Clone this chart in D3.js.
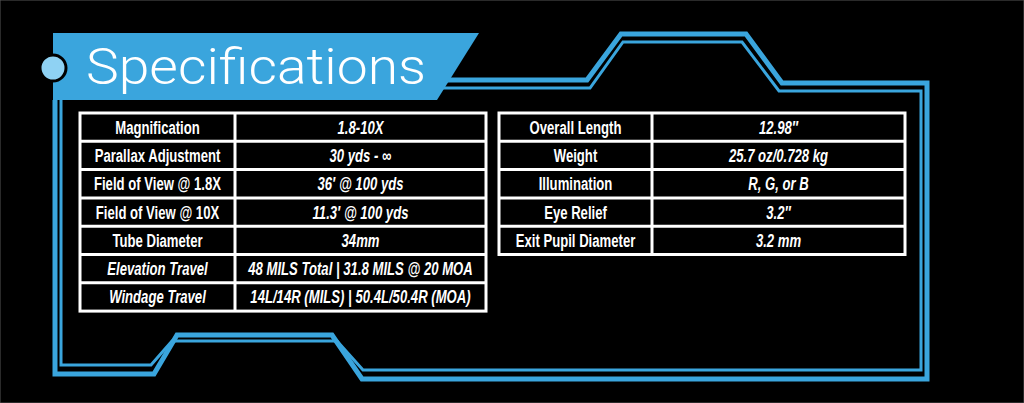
<!DOCTYPE html><html><head><meta charset="utf-8">
<script src="https://cdn.jsdelivr.net/npm/d3@7"></script>
<style>html,body{margin:0;background:#000;overflow:hidden}</style></head><body>
<script>
const leftLabels=["Magnification","Parallax Adjustment","Field of View @ 1.8X","Field of View @ 10X","Tube Diameter","Elevation Travel","Windage Travel"];
const leftValues=["1.8-10X","30 yds - ∞","36′ @ 100 yds","11.3′ @ 100 yds","34mm","48 MILS Total | 31.8 MILS @ 20 MOA","14L/14R (MILS) | 50.4L/50.4R (MOA)"];
const leftItalic=[false,false,false,false,false,true,true];
const rightLabels=["Overall Length","Weight","Illumination","Eye Relief","Exit Pupil Diameter"];
const rightValues=["12.98″","25.7 oz/0.728 kg","R, G, or B","3.2″","3.2 mm"];
const title="Specifications";

const W=1024,H=403,blue="#3aa5dd";
const svg=d3.select("body").append("svg").attr("width",W).attr("height",H);
svg.append("rect").attr("width",W).attr("height",H).attr("fill","#000").attr("stroke","#555").attr("stroke-width",1);
const line=d3.line();
svg.append("path").attr("d",line([[440,80],[587,80],[621,34],[746,34],[782,83],[927,83],[927,379],[362,379],[332,335],[177,335],[154,374],[55,374],[55,100]]))
 .attr("fill","none").attr("stroke",blue).attr("stroke-width",5);
svg.append("path").attr("d",line([[436,88],[590,88],[623,42],[742,42],[779,91],[921,91],[921,370],[363,370],[337,341],[172,341],[151,365],[61,365],[61,100]]))
 .attr("fill","none").attr("stroke",blue).attr("stroke-width",3);
svg.append("path").attr("d",line([[53,33],[479,33],[437,100],[53,100]])+"Z").attr("fill",blue);
svg.append("circle").attr("cx",53).attr("cy",68).attr("r",13).attr("fill","#8fd2f3").attr("stroke","#000").attr("stroke-width",3);
svg.append("text").attr("x",86).attr("y",84).attr("fill","#fff").attr("font-family","Roboto").attr("font-weight",300)
 .attr("font-size",50).attr("textLength",340).attr("lengthAdjust","spacingAndGlyphs").text(title);

function txt(g,x,y,s,it){
  g.append("text").attr("transform",`translate(${x},${y}) scale(0.71,1)`).attr("text-anchor","middle").attr("fill","#fff")
   .attr("font-family","Liberation Sans, Arial, sans-serif").attr("font-weight","bold").attr("font-size",18.5)
   .attr("font-style",it?"italic":"normal").text(s);
}
function table(labels,values,italic,x0,x1,xd,y0){
  const y=d3.scaleBand().domain(d3.range(labels.length)).range([y0,y0+28.3*labels.length]);
  const g=svg.append("g");
  g.append("rect").attr("x",x0).attr("y",y0).attr("width",x1-x0).attr("height",y.range()[1]-y0)
   .attr("fill","#000").attr("stroke","#fff").attr("stroke-width",3);
  g.append("line").attr("x1",xd).attr("x2",xd).attr("y1",y0).attr("y2",y.range()[1]).attr("stroke","#fff").attr("stroke-width",3);
  labels.forEach((l,i)=>{
    if(i>0) g.append("line").attr("x1",x0).attr("x2",x1).attr("y1",y(i)).attr("y2",y(i)).attr("stroke","#fff").attr("stroke-width",3);
    const cy=y(i)+y.bandwidth()/2+6.5;
    txt(g,(x0+xd)/2,cy,l,italic&&italic[i]);
    txt(g,(xd+x1)/2,cy,values[i],true);
  });
}
table(leftLabels,leftValues,leftItalic,80,486,235,113);
table(rightLabels,rightValues,null,499,905,652,113);
</script></body></html>
